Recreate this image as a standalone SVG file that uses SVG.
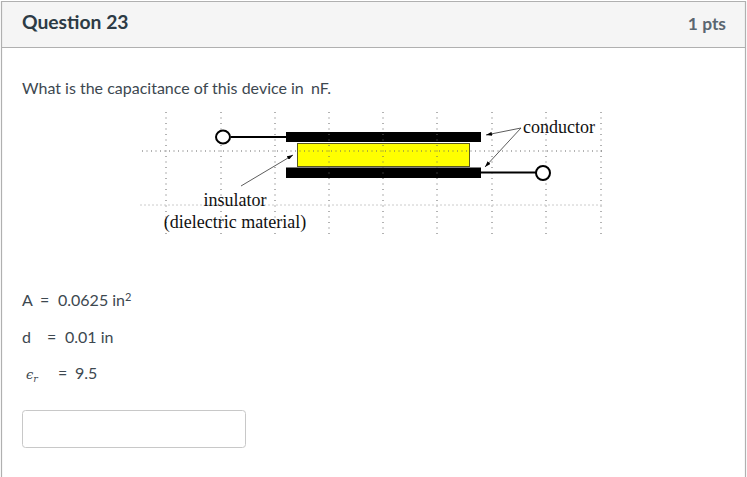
<svg xmlns="http://www.w3.org/2000/svg" width="747" height="477" viewBox="0 0 747 477">
<style>
.ui{font-family:Lato,"Open Sans",sans-serif;fill:#3d4850}
.q{font-size:16px}
.h{font-size:19.300px;font-weight:700;fill:#2d3b45}
.s{font-family:"Liberation Serif","Times New Roman",serif;font-size:18px;fill:#111}
.gv{stroke:#666;stroke-width:1;stroke-dasharray:1 4.500;fill:none}
.gh{stroke:#666;stroke-width:1;stroke-dasharray:1 3.500;fill:none}
.gl{stroke:#ccc;stroke-width:1;stroke-dasharray:2 2;fill:none}
.plate{fill:#000}
.lead{stroke:#000;stroke-width:2;fill:none}
.term{stroke:#000;stroke-width:2;fill:#fff}
.arr{stroke:#333;stroke-width:.8;fill:none;marker-end:url(#a)}
</style>
<defs>
<marker id="a" markerUnits="userSpaceOnUse" markerWidth="6" markerHeight="4" refX="6" refY="2" orient="auto"><path d="M0 0L6 2L0 4z" fill="#000"/></marker>
</defs>
<rect width="747" height="477" fill="#fff"/>
<g id="card">
<rect x="1.500" y="1.500" width="744.500" height="46" fill="#f5f5f5"/>
<path d="M1.500 477V1.500H745.500V477M1.500 47.500H745.500" fill="none" stroke="#b0b0b0" stroke-width="1.200"/>
<text class="ui h" x="22" y="28.500">Question 23</text>
<text class="ui" x="726" y="30" text-anchor="end" font-size="17.400" font-weight="700" style="fill:#5a6670">1 pts</text>
<text class="ui q" x="22" y="93.500">What is the capacitance of this device in</text>
<text class="ui q" x="311" y="93.500">nF.</text>
</g>
<g id="insulator"><rect x="297.500" y="143.500" width="172" height="23" fill="#ff0" stroke="#5a5a20"/></g>
<g id="top-plate"><rect class="plate" x="286" y="132" width="195" height="10"/></g>
<g id="bottom-plate"><rect class="plate" x="286" y="167.500" width="195" height="10.500"/></g>
<g id="grid">
<path class="gv" d="M166 112V238M221 112V238M275 112V238M329 112V238M383 112V238M437 112V238M492 112V238M546 112V238M601 112V238"/>
<path class="gh" d="M142 151H604"/>
<path class="gl" d="M140 205H604"/>
</g>
<g id="connectors">
<path class="lead" d="M231 137H286M481 172.500H536"/>
<path class="arr" d="M241 186L293 155"/>
<path class="arr" d="M521 128L486 135"/>
<path class="arr" d="M521 128L485 167"/>
</g>
<g id="left-terminal"><ellipse class="term" cx="223" cy="137" rx="7" ry="6.500"/></g>
<g id="right-terminal"><circle class="term" cx="543" cy="173" r="7"/></g>
<g id="labels">
<text class="s" x="235" y="206" text-anchor="middle">insulator</text>
<text class="s" x="235" y="228" text-anchor="middle">(dielectric material)</text>
<text class="s" x="523" y="133">conductor</text>
</g>
<g id="values">
<text class="ui q" x="22" y="306">A</text>
<text class="ui q" x="40" y="306">=</text>
<text class="ui q" x="58" y="306">0.0625 in<tspan font-size="11" dy="-5">2</tspan></text>
<text class="ui q" x="22" y="342.500">d</text>
<text class="ui q" x="47" y="342.500">=</text>
<text class="ui q" x="65" y="342.500">0.01 in</text>
<text x="26" y="379" font-family="'DejaVu Serif',serif" font-style="italic" font-size="13" fill="#3d4850">ϵ<tspan font-size="9.500" dy="3">r</tspan></text>
<text class="ui q" x="58" y="378.500">=</text>
<text class="ui q" x="75" y="378.500">9.5</text>
</g>
<g id="answer"><rect x="22.500" y="410.500" width="223" height="37" rx="3" fill="#fff" stroke="#c8c8c8"/></g>
</svg>
